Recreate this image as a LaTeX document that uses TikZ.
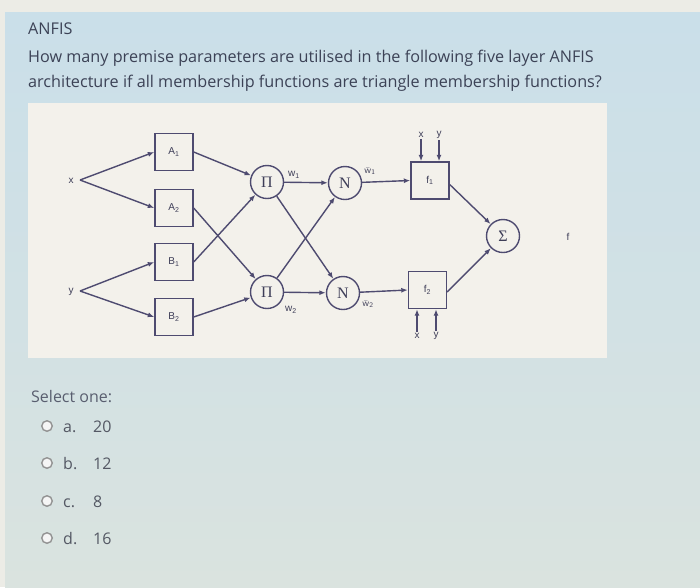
\documentclass[tikz,border=0pt]{standalone}
\usepackage{fontspec}
\setmainfont{Open Sans}
\newfontfamily\labfont{Liberation Sans}
\newfontfamily\symfont{Liberation Serif}
\usetikzlibrary{arrows.meta}
\definecolor{bgtop}{RGB}{202,223,233}
\definecolor{bgbot}{RGB}{218,227,223}
\definecolor{strip}{RGB}{236,236,230}
\definecolor{paper}{RGB}{243,241,235}
\definecolor{ink}{RGB}{78,75,112}
\definecolor{qtext}{RGB}{60,66,86}
\definecolor{otext}{RGB}{84,88,100}
\definecolor{lab}{RGB}{62,62,88}
\begin{document}
\begin{tikzpicture}[x=1pt,y=-1pt,
 conn/.style={draw=ink, line width=1.4pt, -{Latex[length=6.5pt,width=5pt]}},
 mfbox/.style={draw=ink, line width=1.4pt, minimum width=38pt, minimum height=37pt, inner sep=0pt, font=\labfont\fontsize{10}{11}\selectfont, text=lab},
 neuron/.style={draw=ink, line width=1.4pt, circle, minimum size=33pt, inner sep=0pt, font=\symfont\fontsize{16}{17}\selectfont, text=lab},
 lbl/.style={font=\labfont\fontsize{10}{11}\selectfont, text=lab, inner sep=1pt},
 qline/.style={anchor=base west, inner sep=0pt, font=\fontsize{16.2}{20}\selectfont, text=qtext},
 opt/.style={anchor=base west, inner sep=0pt, font=\fontsize{16}{19}\selectfont, text=otext},
 radio/.style={circle, draw=gray!85, line width=1.4pt, fill=white!92!gray, minimum size=10.5pt, inner sep=0pt}
]
\useasboundingbox (0,0) rectangle (700,587);
% backgrounds
\fill[bgbot] (0,0) rectangle (700,587);
\shade[top color=bgtop, bottom color=bgbot, middle color=bgtop!55!bgbot] (5,12) rectangle (700,587);
\fill[strip] (0,0) rectangle (700,12);
\fill[strip] (0,0) rectangle (5,587);
\fill[paper] (28,103) rectangle (607,358);

% question text
\node[qline] (title) at (28,34) {ANFIS};
\node[qline] (q1) at (28,62) {How many premise parameters are utilised in the following five layer ANFIS};
\node[qline] (q2) at (28,87) {architecture if all membership functions are triangle membership functions?};

% layer 1
\node[mfbox] (A1) at (174,152) {A\textsubscript{1}};
\node[mfbox] (A2) at (174,208) {A\textsubscript{2}};
\node[mfbox] (B1) at (174,262) {B\textsubscript{1}};
\node[mfbox] (B2) at (174,317) {B\textsubscript{2}};
% inputs
\node[lbl] (x) at (71,181) {x};
\node[lbl] (y) at (71,292) {y};
\coordinate (xf) at (80,180);
\coordinate (yf) at (80,291);
\draw[conn] (xf) -- (A1.west);
\draw[conn] (xf) -- (A2.west);
\draw[conn] (yf) -- (B1.west);
\draw[conn] (yf) -- (B2.west);
% layer 2
\node[neuron] (P1) at (267,182) {Π};
\node[neuron] (P2) at (267,292) {Π};
\draw[conn] (A1.east) -- (P1);
\draw[conn] (B1.east) -- (P1);
\draw[conn] (A2.east) -- (P2);
\draw[conn] (B2.east) -- (P2);
\node[lbl] (w1) at (294,175) {w\textsubscript{1}};
\node[lbl] (w2) at (291,310) {w\textsubscript{2}};
% layer 3
\node[neuron] (N1) at (345,183) {N};
\node[neuron] (N2) at (343,293) {N};
\draw[conn] (P1) -- (N1);
\draw[conn] (P1) -- (N2);
\draw[conn] (P2) -- (N1);
\draw[conn] (P2) -- (N2);
\node[lbl] (wb1) at (370,171) {$\bar{\mathsf{w}}_{\mathsf{1}}$};
\node[lbl] (wb2) at (368,304) {$\bar{\mathsf{w}}_{\mathsf{2}}$};
% layer 4
\node[mfbox] (F1) at (430,180.5) {f\textsubscript{1}};
\node[mfbox] (F2) at (427.5,290) {f\textsubscript{2}};
\draw[conn] (N1) -- (F1.west);
\draw[conn] (N2) -- (F2.west);
\node[lbl] (fx1) at (421,135) {x};
\node[lbl] (fy1) at (439,135) {y};
\draw[conn] (fx1.south) -- (fx1.south |- F1.north);
\draw[conn] (fy1.south) -- (fy1.south |- F1.north);
\node[lbl] (gx2) at (417,336) {x};
\node[lbl] (gy2) at (436,336) {y};
\draw[conn] (gx2.north) -- (gx2.north |- F2.south);
\draw[conn] (gy2.north) -- (gy2.north |- F2.south);
% layer 5
\node[neuron] (S) at (503,236) {Σ};
\draw[conn] ([yshift=-4pt]F1.east) -- (S);
\draw[conn] ([yshift=-2pt]F2.east) -- (S);
\node[lbl] (f) at (568,237) {f};

% answers
\node[opt, text=qtext!85!white] (sel) at (31,402) {Select one:};
\node[radio] (ra) at (47,426) {};
\node[radio] (rb) at (47,463) {};
\node[radio] (rc) at (47,501) {};
\node[radio] (rd) at (47,538) {};
\node[opt] (la) at (63,432) {a.};
\node[opt] (lb) at (63,469) {b.};
\node[opt] (lc) at (63,507) {c.};
\node[opt] (ld) at (63,544) {d.};
\node[opt] (va) at (93,432) {20};
\node[opt] (vb) at (93,469) {12};
\node[opt] (vc) at (93,507) {8};
\node[opt] (vd) at (93,544) {16};
\end{tikzpicture}
\end{document}
